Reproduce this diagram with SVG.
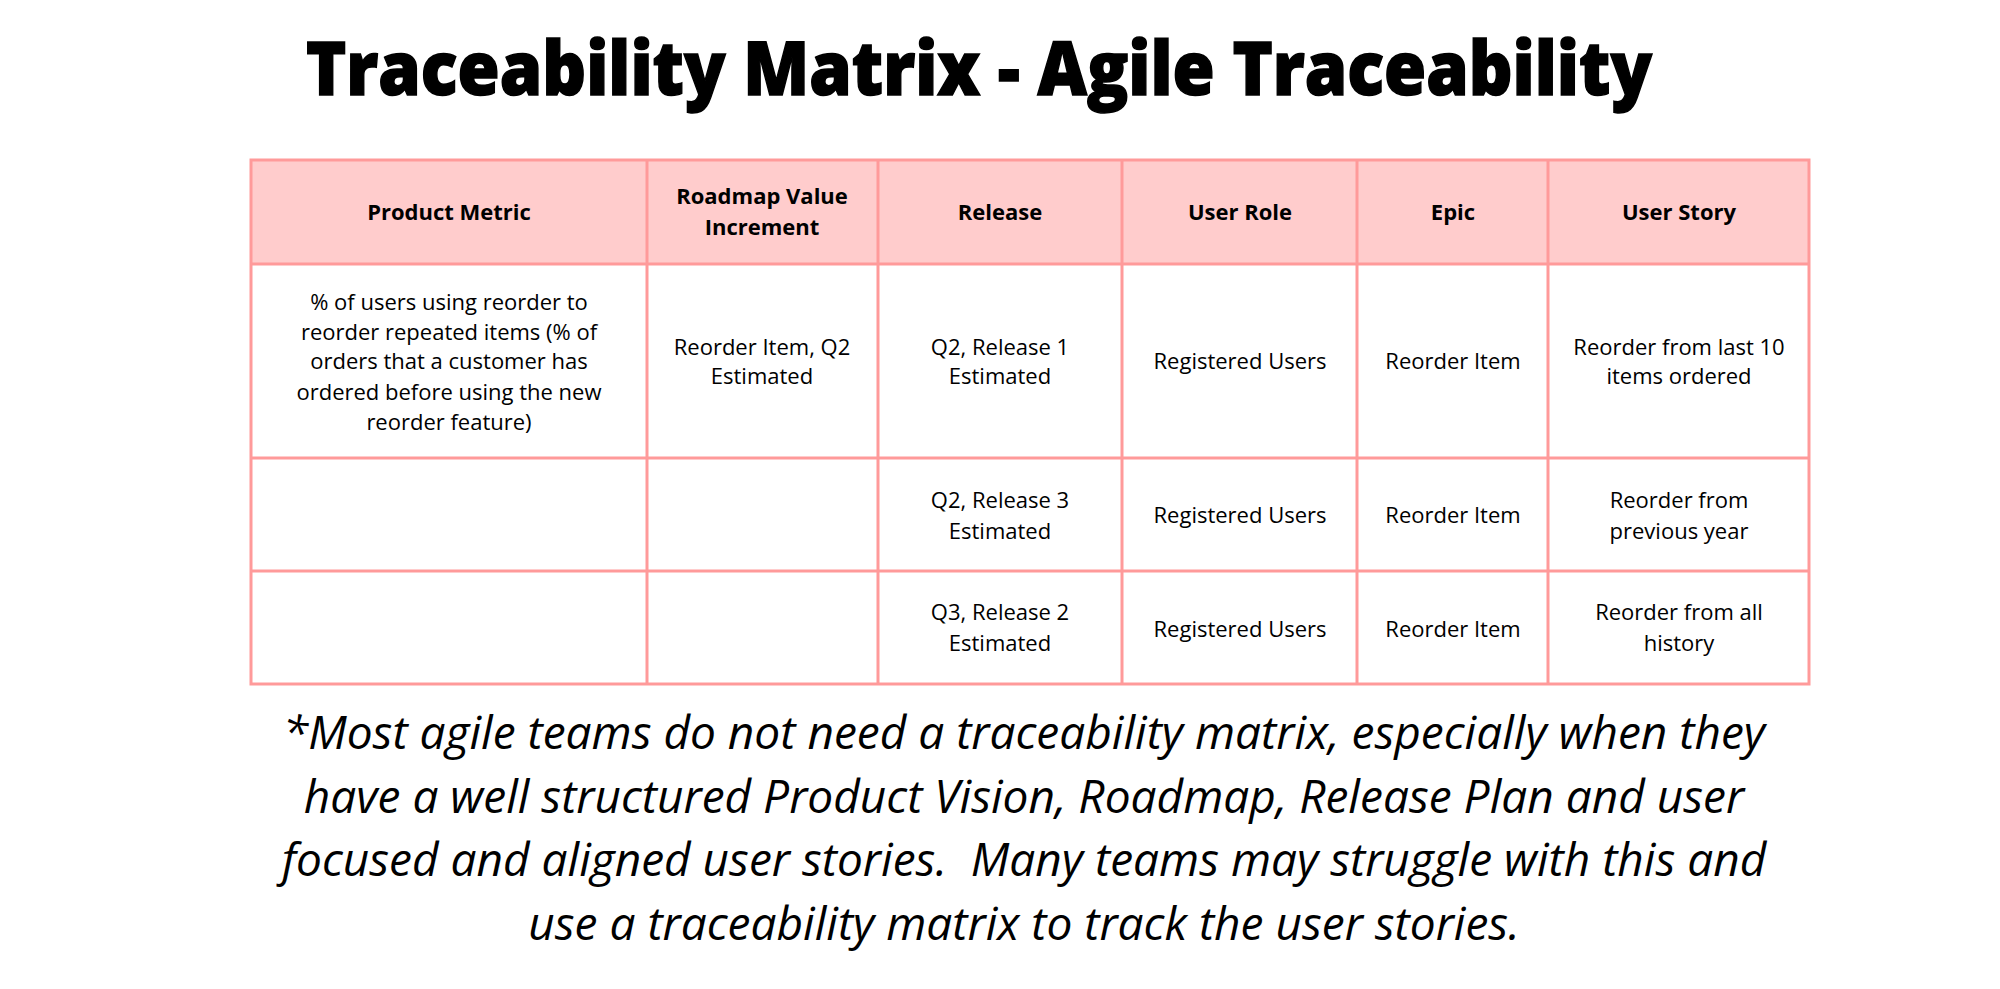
<svg xmlns="http://www.w3.org/2000/svg" width="2000" height="989" viewBox="0 0 2000 989">
<style>
.t{font-family:"Open Sans","Liberation Sans",sans-serif;fill:#000;text-anchor:middle}
.h{font-size:22px;font-weight:bold}
.b{font-size:22px}
.g{stroke:#ff9a9a;stroke-width:3;fill:none}
</style>
<rect width="2000" height="989" fill="#fff"/>
<text id="title" class="t" x="979" y="95" font-size="74" font-weight="800" stroke="#000" stroke-width="1.5" textLength="1346" lengthAdjust="spacingAndGlyphs">Traceability Matrix - Agile Traceability</text>
<g id="table">
<rect x="251" y="160" width="1558" height="104" fill="#ffcccc"/>
<g class="g">
<rect x="251" y="160" width="1558" height="524"/>
<path d="M251 264H1809M251 458H1809M251 571H1809M647 160V684M878 160V684M1122 160V684M1357 160V684M1548 160V684"/>
</g>
</g>
<g id="header" class="t h">
<text x="449" y="220">Product Metric</text>
<text x="762" y="204">Roadmap Value</text><text x="762" y="235">Increment</text>
<text x="1000" y="220">Release</text>
<text x="1240" y="220">User Role</text>
<text x="1453" y="220">Epic</text>
<text x="1679" y="220">User Story</text>
</g>
<g id="row1" class="t b">
<text x="449" y="310">% of users using reorder to</text>
<text x="449" y="340">reorder repeated items (% of</text>
<text x="449" y="369">orders that a customer has</text>
<text x="449" y="400">ordered before using the new</text>
<text x="449" y="430">reorder feature)</text>
<text x="762" y="355">Reorder Item, Q2</text><text x="762" y="384">Estimated</text>
<text x="1000" y="355">Q2, Release 1</text><text x="1000" y="384">Estimated</text>
<text x="1240" y="369">Registered Users</text>
<text x="1453" y="369">Reorder Item</text>
<text x="1679" y="355">Reorder from last 10</text><text x="1679" y="384">items ordered</text>
</g>
<g id="row2" class="t b">
<text x="1000" y="508">Q2, Release 3</text><text x="1000" y="539">Estimated</text>
<text x="1240" y="523">Registered Users</text>
<text x="1453" y="523">Reorder Item</text>
<text x="1679" y="508">Reorder from</text><text x="1679" y="539">previous year</text>
</g>
<g id="row3" class="t b">
<text x="1000" y="620">Q3, Release 2</text><text x="1000" y="651">Estimated</text>
<text x="1240" y="637">Registered Users</text>
<text x="1453" y="637">Reorder Item</text>
<text x="1679" y="620">Reorder from all</text><text x="1679" y="651">history</text>
</g>
<g id="note" class="t" font-size="46" font-style="italic">
<text x="1024" y="749">*Most agile teams do not need a traceability matrix, especially when they</text>
<text x="1024" y="813">have a well structured Product Vision, Roadmap, Release Plan and user</text>
<text x="1024" y="876" xml:space="preserve">focused and aligned user stories.  Many teams may struggle with this and</text>
<text x="1024" y="940">use a traceability matrix to track the user stories.</text>
</g>
</svg>
